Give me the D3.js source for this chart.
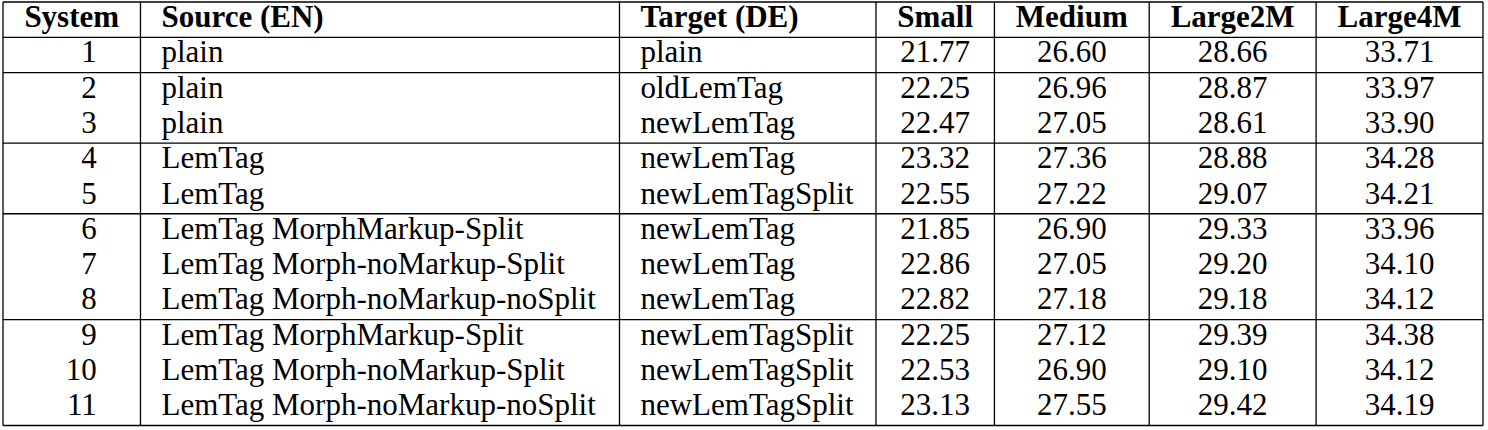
<!DOCTYPE html>
<html>
<head>
<meta charset="utf-8">
<script src="https://cdn.jsdelivr.net/npm/d3@7"></script>
<style>
  body { margin: 0; background: #fff; }
</style>
</head>
<body>
<script>
const columns = ['System', 'Source (EN)', 'Target (DE)', 'Small', 'Medium', 'Large2M', 'Large4M'];
const systems = ['1', '2', '3', '4', '5', '6', '7', '8', '9', '10', '11'];
const sources = ['plain', 'plain', 'plain', 'LemTag', 'LemTag',
  'LemTag MorphMarkup-Split', 'LemTag Morph-noMarkup-Split', 'LemTag Morph-noMarkup-noSplit',
  'LemTag MorphMarkup-Split', 'LemTag Morph-noMarkup-Split', 'LemTag Morph-noMarkup-noSplit'];
const targets = ['plain', 'oldLemTag', 'newLemTag', 'newLemTag', 'newLemTagSplit',
  'newLemTag', 'newLemTag', 'newLemTag', 'newLemTagSplit', 'newLemTagSplit', 'newLemTagSplit'];
const small = [21.77, 22.25, 22.47, 23.32, 22.55, 21.85, 22.86, 22.82, 22.25, 22.53, 23.13];
const medium = [26.60, 26.96, 27.05, 27.36, 27.22, 26.90, 27.05, 27.18, 27.12, 26.90, 27.55];
const large2M = [28.66, 28.87, 28.61, 28.88, 29.07, 29.33, 29.20, 29.18, 29.39, 29.10, 29.42];
const large4M = [33.71, 33.97, 33.90, 34.28, 34.21, 33.96, 34.10, 34.12, 34.38, 34.12, 34.19];
// last system of each block (a rule is drawn under it)
const groupEnds = ['1', '3', '5', '8', '11'];

const width = 1488;
const height = 430;
const fontSize = 31;
const fontFamily = '"Liberation Serif", "Times New Roman", Times, serif';
const pad = 21; // like \tabcolsep

const fmt = d3.format('.2f');
const rows = systems.map((s, i) => [s, sources[i], targets[i],
  fmt(small[i]), fmt(medium[i]), fmt(large2M[i]), fmt(large4M[i])]);

const svg = d3.select('body')
  .append('svg')
  .attr('width', width)
  .attr('height', height)
  .attr('font-family', fontFamily)
  .attr('font-size', fontSize);

// measure column contents, the way LaTeX sizes a tabular
const probe = svg.append('text');
function textWidth(str, bold) {
  probe.attr('font-weight', bold ? 'bold' : 'normal').text(str);
  return probe.node().getComputedTextLength();
}
const colWidths = columns.map((c, j) =>
  d3.max([textWidth(c, true), ...rows.map(r => textWidth(r[j], false))]) + 2 * pad);
probe.remove();

const edges = [0];
colWidths.forEach(w => edges.push(edges[edges.length - 1] + w));

const x = d3.scaleLinear()
  .domain([0, edges[edges.length - 1]])
  .range([3, 1483]);

const y = d3.scaleBand()
  .domain(['header', ...systems])
  .range([2, 425.5]);

const baseline = y.bandwidth() * 0.71;

// rules
const rules = svg.append('g')
  .attr('stroke', '#000')
  .attr('stroke-width', 1.3);

rules.selectAll('.vline')
  .data(edges)
  .enter().append('line')
  .attr('class', 'vline')
  .attr('x1', d => x(d))
  .attr('x2', d => x(d))
  .attr('y1', y.range()[0])
  .attr('y2', y.range()[1]);

const hRules = [y.range()[0], y('header') + y.bandwidth(), ...groupEnds.map(s => y(s) + y.bandwidth())];
rules.selectAll('.hline')
  .data(hRules)
  .enter().append('line')
  .attr('class', 'hline')
  .attr('x1', x(0))
  .attr('x2', x(edges[edges.length - 1]))
  .attr('y1', d => d)
  .attr('y2', d => d);

// cell placement per column
function cellX(j, isHeader) {
  const left = x(edges[j]);
  const right = x(edges[j + 1]);
  const mid = (left + right) / 2;
  if (j === 0) return isHeader ? [mid, 'middle'] : [mid + 25, 'end'];
  if (j === 1 || j === 2) return [left + pad, 'start'];
  return [mid, 'middle'];
}

// header
svg.append('g').selectAll('text')
  .data(columns)
  .enter().append('text')
  .attr('x', (d, j) => cellX(j, true)[0])
  .attr('y', y('header') + baseline)
  .attr('text-anchor', (d, j) => cellX(j, true)[1])
  .attr('font-weight', 'bold')
  .attr('fill', '#000')
  .text(d => d);

// body
const rowG = svg.append('g').selectAll('g')
  .data(rows)
  .enter().append('g')
  .attr('transform', d => `translate(0,${y(d[0]) + baseline})`);

rowG.selectAll('text')
  .data(d => d)
  .enter().append('text')
  .attr('x', (d, j) => cellX(j, false)[0])
  .attr('text-anchor', (d, j) => cellX(j, false)[1])
  .attr('fill', '#000')
  .text(d => d);
</script>
</body>
</html>
